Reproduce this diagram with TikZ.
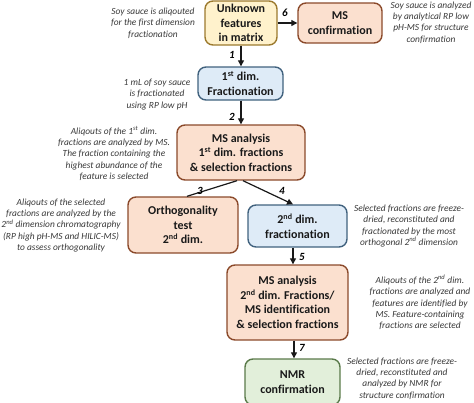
\documentclass[tikz,border=0pt]{standalone}
\usepackage{fontspec}
\setmainfont{Carlito}[Ligatures={NoCommon,NoRare,NoDiscretionary}]
\usetikzlibrary{arrows.meta,calc}
\definecolor{yfill}{HTML}{FFF2CC}
\definecolor{ydraw}{HTML}{9C7A2E}
\definecolor{pfill}{HTML}{FBE0CF}
\definecolor{pdraw}{HTML}{8B4A2B}
\definecolor{bfill}{HTML}{DEEBF7}
\definecolor{bdraw}{HTML}{41627E}
\definecolor{gfill}{HTML}{E2EFDA}
\definecolor{gdraw}{HTML}{5A7A4A}
\definecolor{notec}{HTML}{383838}
\tikzset{
  box/.style={rounded corners=8pt, line width=1.4pt, align=center, inner sep=0pt,
    font=\fontsize{12}{14.5}\selectfont\bfseries, text=black!90},
  ybox/.style={box, fill=yfill, draw=ydraw},
  pbox/.style={box, fill=pfill, draw=pdraw},
  bbox/.style={box, fill=bfill, draw=bdraw},
  gbox/.style={box, fill=gfill, draw=gdraw},
  note/.style={align=center, inner sep=0pt, text=notec,
    font=\fontsize{9.4}{11.4}\selectfont\itshape},
  num/.style={inner sep=0pt, font=\fontsize{11}{12}\selectfont\bfseries\itshape},
  conn/.style={line width=1.2pt, draw=black!90},
  arr/.style={conn, -{Triangle[length=6pt,width=6pt]}},
}
\begin{document}
\begin{tikzpicture}[x=1pt,y=-1pt]
\useasboundingbox (0,0) rectangle (474,402);
% boxes
\node[ybox, minimum width=72pt, minimum height=44pt] (unk) at (241,23) {Unknown\\features\\in matrix};
\node[pbox, minimum width=84pt, minimum height=40pt] (msc) at (340,23) {MS\\confirmation};
\node[bbox, minimum width=85pt, minimum height=33pt] (fr1) at (240.5,83.5) {1\textsuperscript{st} dim.\\Fractionation};
\node[pbox, minimum width=128pt, minimum height=55pt] (ms1) at (241,152.5) {MS analysis\\1\textsuperscript{st} dim. fractions\\\& selection fractions};
\node[pbox, minimum width=110pt, minimum height=56pt] (orth) at (183,225) {Orthogonality\\test\\2\textsuperscript{nd} dim.};
\node[bbox, minimum width=99pt, minimum height=42pt] (fr2) at (297.5,226) {2\textsuperscript{nd} dim.\\fractionation};
\node[pbox, minimum width=121pt, minimum height=75pt] (ms2) at (287.5,302.5) {MS analysis\\2\textsuperscript{nd} dim. Fractions/\\MS identification\\\& selection fractions};
\node[gbox, minimum width=95pt, minimum height=46pt] (nmr) at (292.5,382) {NMR\\confirmation};
% connector anchors
\coordinate (f2t) at ([xshift=-4.5pt]fr2.north);
\coordinate (f2b) at ([xshift=-4.5pt]fr2.south);
\coordinate (nmt) at ([xshift=1.5pt]nmr.north);
\coordinate (m1l) at ([xshift=-4pt]ms1.south);
\coordinate (m1r) at ([xshift=2pt]ms1.south);
\coordinate (ort) at ([xshift=4pt]orth.north);
% connectors
\draw[arr] (unk.south) -- (unk.south |- fr1.north);
\draw[arr] (fr1.south -| unk.south) -- (unk.south |- ms1.north);
\draw[arr] (unk.east |- msc.west) -- (msc.west);
\draw[conn] (m1l) -- (ort);
\draw[arr] (m1r) -- (f2t);
\draw[arr] (f2b) -- (f2b |- ms2.north);
\draw[arr] (nmt |- ms2.south) -- (nmt);
% numbers
\node[num] (l1) at (232,55) {1};
\node[num] (l2) at (232,117) {2};
\node[num] (l6) at (285,13) {6};
\node[num] (l3) at (200,191) {3};
\node[num] (l4) at (282,191) {4};
\node[num] (l5) at (302,257) {5};
\node[num] (l7) at (302,348) {7};
% notes
\node[note] (n0) at (153,23) {Soy sauce is aliqouted\\for the first dimension\\fractionation};
\node[note] (n1) at (157,94.5) {1 mL of soy sauce\\is fractionated\\using RP low pH};
\node[note] (n6) at (431,22.5) {Soy sauce is analyzed\\by analytical RP low\\pH-MS for structure\\confirmation};
\node[note] (n2) at (114,153.5) {Aliqouts of the 1\textsuperscript{st} dim.\\fractions are analyzed by MS.\\The fraction containing the\\highest abundance of the\\feature is selected};
\node[note] (n3) at (61,225.5) {Aliqouts of the selected\\fractions are analyzed by the\\2\textsuperscript{nd} dimension chromatography\\(RP high pH-MS and HILIC-MS)\\to assess orthogonality};
\node[note] (n4) at (409,226) {Selected fractions are freeze-\\dried, reconstituted and\\fractionated by the most\\orthogonal 2\textsuperscript{nd} dimension};
\node[note] (n5) at (420,302.5) {Aliqouts of the 2\textsuperscript{nd} dim.\\fractions are analyzed and\\features are identified by\\MS. Feature-containing\\fractions are selected};
\node[note] (n7) at (402,378.5) {Selected fractions are freeze-\\dried, reconstituted and\\analyzed by NMR for\\structure confirmation};
\end{tikzpicture}
\end{document}
